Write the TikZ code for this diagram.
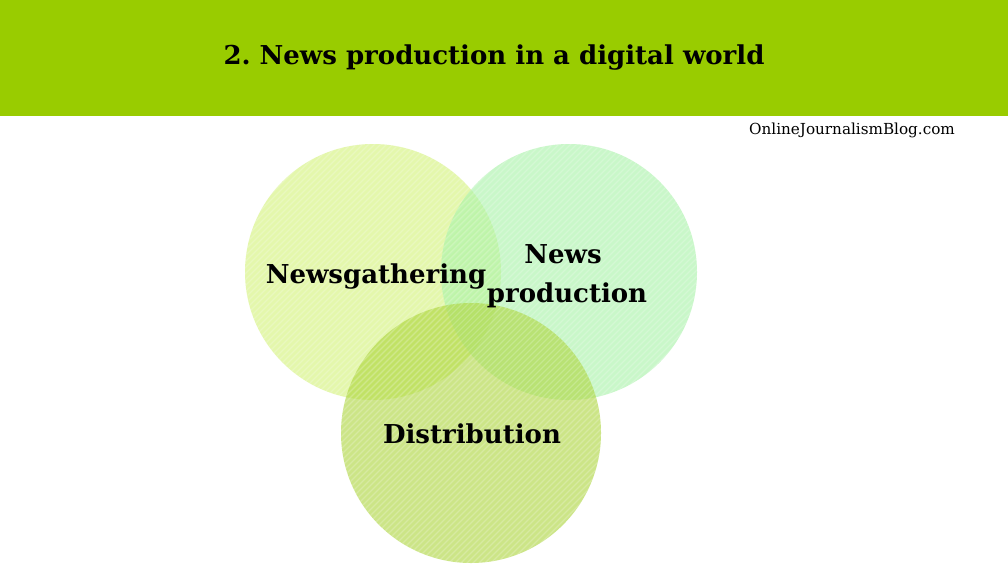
\documentclass[tikz,border=0pt]{standalone}
\usepackage{fontspec}
\setmainfont{DejaVu Serif}
\frenchspacing
\definecolor{banner}{HTML}{99CC00}
\definecolor{cng}{RGB}{210,242,118}
\definecolor{cnp}{RGB}{165,242,165}
\definecolor{cdi}{RGB}{170,212,55}
\tikzset{
  venn/.style={circle, minimum size=256pt, inner sep=0pt, fill opacity=0.6},
  stripe/.style={white, opacity=0.22, line width=1.3pt},
  lbl/.style={font=\fontsize{26}{28}\selectfont\bfseries, text=black, inner sep=0pt, anchor=base},
}
\newcommand\stripesin[2]{%
  \begin{scope}
    \clip (#1.center) circle (#2);
    \foreach \i in {-288,-282,...,288}
      \draw[stripe, shift={(#1.center)}] (\i-140,140) -- (\i+140,-140);
  \end{scope}}
\begin{document}
\begin{tikzpicture}[x=1pt,y=-1pt]
\useasboundingbox (0,0) rectangle (1008,567);
\fill[white] (0,0) rectangle (1008,567);
\fill[banner] (0,0) rectangle (1008,116);
\node[font=\fontsize{26}{28}\selectfont\bfseries, inner sep=0pt, anchor=base] (title) at (494,65) {2. News production in a digital world};
\node[font=\fontsize{15.2}{17}\selectfont, inner sep=0pt, anchor=base] (site) at (852,135) {OnlineJournalismBlog.com};
\node[venn, fill=cng] (ng) at (373,272) {};
\stripesin{ng}{128pt}
\node[venn, fill=cnp] (np) at (569,272) {};
\stripesin{np}{128pt}
\node[venn, fill=cdi, minimum size=260pt] (di) at (471,433) {};
\stripesin{di}{130pt}
\node[lbl] (tng) at (376,283) {Newsgathering};
\node[lbl] (tnp1) at (563,263) {News};
\node[lbl] (tnp2) at (567,302) {production};
\node[lbl] (tdi) at (472,443) {Distribution};
\end{tikzpicture}
\end{document}
